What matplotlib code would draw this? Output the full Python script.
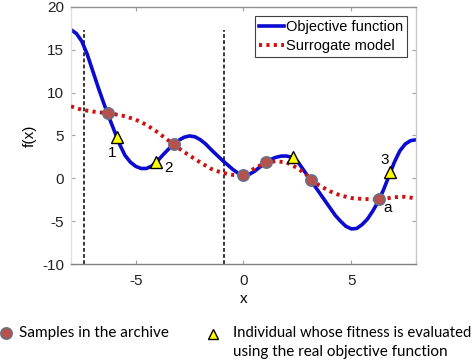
import matplotlib.pyplot as plt
from matplotlib.lines import Line2D

plt.rcParams['font.family'] = 'Liberation Sans'
plt.rcParams['axes.unicode_minus'] = False

# objective function
obj_x = [-8, -7.75, -7.5, -7.25, -7, -6.75, -6.5, -6.25, -6, -5.75, -5.5, -5.25,
         -5, -4.75, -4.5, -4.25, -4, -3.75, -3.5, -3.25, -3, -2.75, -2.5, -2.25,
         -2, -1.75, -1.5, -1.25, -1, -0.75, -0.5, -0.25, 0, 0.25, 0.5, 0.75,
         1, 1.25, 1.5, 1.75, 2, 2.25, 2.5, 2.75, 3, 3.25, 3.5, 3.75,
         4, 4.25, 4.5, 4.75, 5, 5.25, 5.5, 5.75, 6, 6.25, 6.5, 6.75,
         7, 7.25, 7.5, 7.75, 8]
obj_y = [17.35, 16.9, 16.0, 14.5, 12.6, 10.7, 8.9, 7.2, 5.6, 4.0, 2.7, 1.9,
         1.4, 1.15, 1.15, 1.45, 2.0, 2.7, 3.35, 3.95, 4.45, 4.8, 4.95, 4.85,
         4.5, 4.0, 3.35, 2.75, 2.15, 1.6, 1.05, 0.6, 0.4, 0.45, 0.8, 1.3,
         1.8, 2.2, 2.45, 2.6, 2.6, 2.45, 2.0, 1.1, 0.2, -0.7, -1.6, -2.5,
         -3.4, -4.3, -5.0, -5.6, -5.9, -5.85, -5.4, -4.75, -3.8, -2.7, -1.3, 0.3,
         1.9, 3.2, 4.0, 4.4, 4.5]

# surrogate model
sur_x = [-8, -7.5, -7, -6.5, -6, -5.5, -5, -4.5, -4, -3.5, -3, -2.5, -2, -1.5,
         -1, -0.5, 0, 0.5, 1, 1.5, 2, 2.5, 3, 3.5, 4, 4.5, 5, 5.5, 6, 6.5,
         7, 7.5, 8]
sur_y = [8.4, 8.0, 7.8, 7.65, 7.5, 7.25, 6.85, 6.25, 5.4, 4.45, 3.5, 2.65, 1.85, 1.1,
         0.65, 0.4, 0.4, 1.15, 1.8, 2.0, 1.85, 1.2, 0.25, -0.8, -1.5, -2.0, -2.3, -2.4, -2.45, -2.4,
         -2.2, -2.15, -2.35]

# archive samples and evaluated individuals
arch_x = [-6.3, -3.23, -0.03, 1.06, 3.15, 6.3]
arch_y = [7.6, 4.0, 0.38, 1.9, -0.15, -2.42]
eval_x = [-5.88, -4.05, 2.28, 6.8]
eval_y = [4.8, 1.95, 2.45, 0.7]

bounds = [-7.4, -0.9]
labels = ['1', '2', '3', 'a']
label_x = [-6.1, -3.5, 6.53, 6.7]
label_y = [3.0, 1.2, 2.1, -3.5]

fig = plt.figure(figsize=(4.74, 3.64), dpi=100)
ax = fig.add_axes([0.1498, 0.2747, 0.7278, 0.7061])

ax.vlines(bounds, -10, 17.3, colors='black', linestyles=(0, (2.5, 1.5)), linewidth=1.1, zorder=1)
ax.plot(obj_x, obj_y, color='#0a0ad0', lw=2.6, label='Objective function', zorder=2,
        solid_joinstyle='round')
ax.plot(sur_x, sur_y, color='#d01010', lw=2.8, linestyle=(0, (0.8, 1.1)),
        label='Surrogate model', zorder=3)
ax.plot(arch_x, arch_y, 'o', ms=8, mfc='#b8504c', mec='#6e6e82', mew=1.3, zorder=4)
ax.plot(eval_x, eval_y, '^', ms=8.5, mfc='#ffff00', mec='black', mew=1.0, zorder=4)

for t, lx, ly in zip(labels, label_x, label_y):
    ax.text(lx, ly, t, fontsize=11, ha='center', va='center')

ax.set_xlim(-8, 8)
ax.set_ylim(-10, 20)
ax.set_xticks([-5, 0, 5])
ax.set_yticks([-10, -5, 0, 5, 10, 15, 20])
ax.tick_params(direction='in', length=3, color='#a0a0a0', labelsize=11,
               labelcolor='#222222', top=True, right=True)
ax.tick_params(axis='x', pad=7)
ax.tick_params(axis='y', pad=5)
ax.spines['bottom'].set_color('#808080')
ax.spines['top'].set_color('#909090')
ax.spines['right'].set_color('#c8c8c8')
ax.spines['left'].set_color('#e0e0e0')
for s in ax.spines.values():
    s.set_linewidth(1.0)

ax.set_xlabel('x', fontsize=11, labelpad=3)
ax.set_ylabel('f(x)', fontsize=11, labelpad=4)

leg = ax.legend(loc='upper right', fontsize=10.5, fancybox=False, framealpha=1,
                edgecolor='#404040', handlelength=1.7, handletextpad=0.15,
                borderpad=0.25, labelspacing=0.35, borderaxespad=0.65)
leg.get_frame().set_linewidth(0.8)

# bottom key
fig.add_artist(Line2D([6 / 474], [1 - 333 / 364], marker='o', ms=8, mfc='#b8504c',
                      mec='#6e6e82', mew=1.3, transform=fig.transFigure))
fig.text(19 / 474, 1 - 333 / 364, 'Samples in the archive', fontsize=11,
         family='Lato', va='center', ha='left')
fig.add_artist(Line2D([213 / 474], [1 - 334 / 364], marker='^', ms=7.5, mfc='#ffff00',
                      mec='black', mew=1.0, transform=fig.transFigure))
fig.text(233 / 474, 1 - 333 / 364, 'Individual whose fitness is evaluated', fontsize=10.7,
         family='Lato', va='center', ha='left')
fig.text(233 / 474, 1 - 352 / 364, 'using the real objective function', fontsize=11,
         family='Lato', va='center', ha='left')

fig.savefig('out.png', dpi=100)
